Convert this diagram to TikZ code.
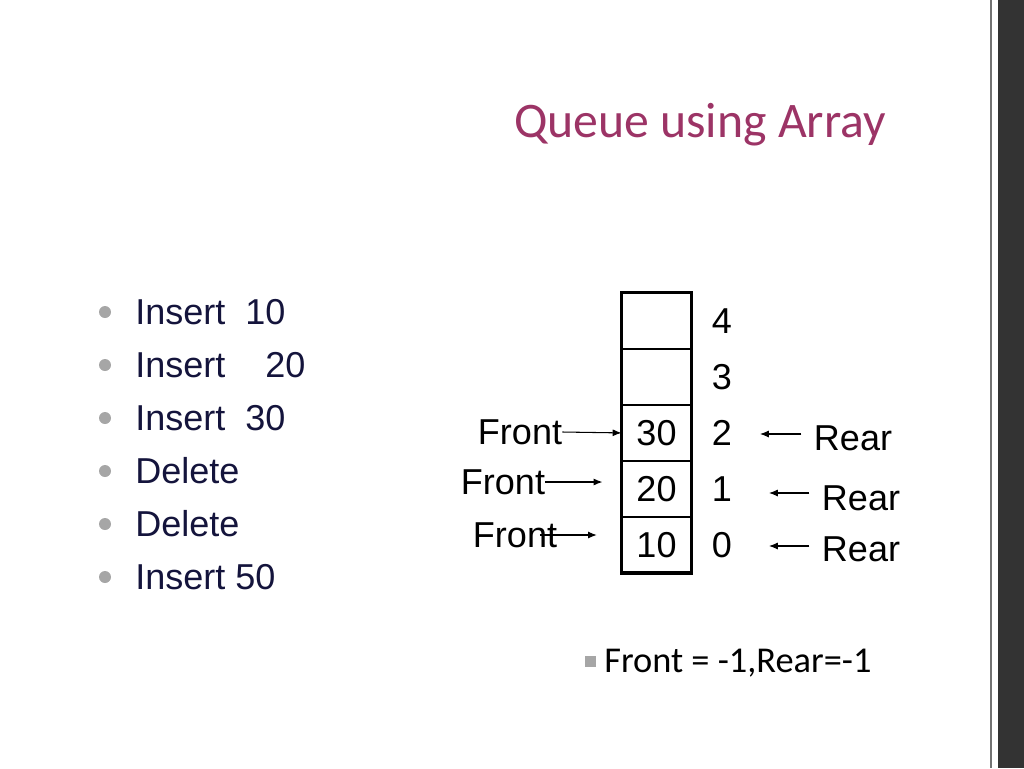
\documentclass[tikz,border=0pt]{standalone}
\usepackage{fontspec}
\setmainfont{Liberation Sans}
\newfontfamily\slidefont{Carlito}
\usetikzlibrary{positioning,arrows.meta}
\definecolor{titlecol}{HTML}{9C3466}
\definecolor{itemcol}{HTML}{14143C}
\tikzset{
    cell/.style = {draw, line width=0.6pt, minimum width=1.38cm, minimum height=1.1cm, inner sep=0pt, font=\fontsize{20.5}{23}\selectfont},
    lbl/.style = {font=\fontsize{20.5}{23}\selectfont, inner sep=0pt},
    item/.style = {font=\fontsize{20.5}{23}\selectfont, text=itemcol, anchor=west, inner sep=0pt},
    ptr/.style = {-{Latex[length=5pt,width=4pt]}, line width=0.6pt}
}
\begin{document}
\begin{tikzpicture}[x=0.02cm,y=-0.02cm]
        \useasboundingbox (0,0) rectangle (1024,768);
        % right edge band
        \fill[black!80] (998,0) rectangle (1024,768);
        \draw[black!55, line width=1pt] (991,0) -- (991,768);
        % title
        \node[text=titlecol, font=\slidefont\fontsize{28.3}{33}\selectfont] (title) at (700,125) {Queue using Array};
        % list of operations
        \foreach \t [count=\i from 0] in {Insert~~10, Insert~~~~20, Insert~~30, Delete, Delete, Insert 50} {
            \fill[gray!70] (105,312+53*\i) circle (6);
            \node[item] (op\i) at (135,312+53*\i) {\t};
        }
        % the array
        \begin{scope}[style = thick]
            \node[cell] (c0) at (656.5,545) {10};
            \node[cell, above=0pt of c0] (c1) {20};
            \node[cell, above=0pt of c1] (c2) {30};
            \node[cell, above=0pt of c2] (c3) {};
            \node[cell, above=0pt of c3] (c4) {};
        \end{scope}
        \draw[line width=1.8pt] (c4.north west) rectangle (c0.south east);
        \foreach \i in {0,...,4} {
            \node[lbl, right=0.4cm of c\i] (ix\i) {\i};
        }
        % front pointers
        \node[lbl] (f2) at (520,432) {Front};
        \node[lbl] (f1) at (503,482) {Front};
        \node[lbl] (f0) at (515,535) {Front};
        \draw[ptr] (f2.east) -- (c2.west);
        \draw[ptr] (f1.east) -- ++(57,0) coordinate (f1e);
        \draw[ptr] ([xshift=-10pt]f0.east) -- ++(57,0) coordinate (f0e);
        % rear pointers
        \node[lbl] (r2) at (853,438) {Rear};
        \node[lbl] (r1) at (861,498) {Rear};
        \node[lbl] (r0) at (861,549) {Rear};
        \coordinate (r2e) at (760,434);
        \coordinate (r1e) at (769,493);
        \coordinate (r0e) at (769,546);
        \draw[ptr] ([xshift=-7pt]r2.west |- r2e) -- (r2e);
        \draw[ptr] ([xshift=-7pt]r1.west |- r1e) -- (r1e);
        \draw[ptr] ([xshift=-7pt]r0.west |- r0e) -- (r0e);
        % initial values
        \fill[gray!70] (585,656) rectangle (596,667);
        \node[anchor=west, inner sep=0pt, font=\slidefont\fontsize{20.7}{23}\selectfont] (init) at (604,663) {Front = -1,Rear=-1};
    \end{tikzpicture}
\end{document}
